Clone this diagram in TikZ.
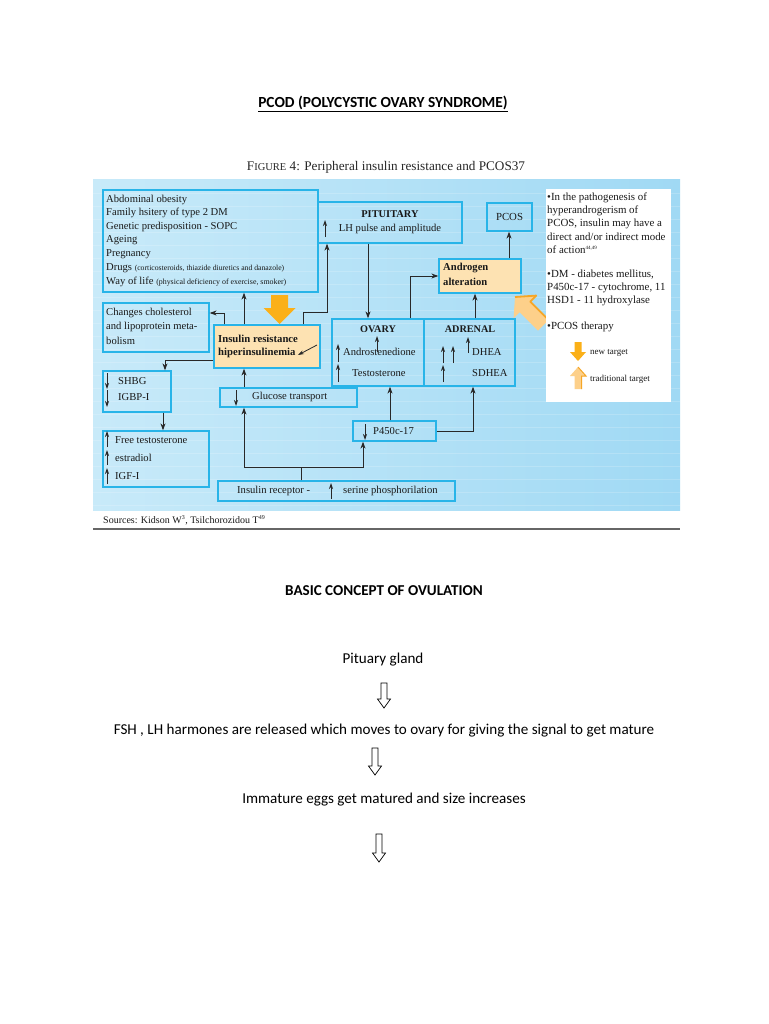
\documentclass[tikz,border=0pt]{standalone}
\usepackage{fontspec}
\setmainfont{Liberation Serif}
\newfontfamily\calib{Carlito}
\usetikzlibrary{arrows.meta}
\definecolor{bxc}{RGB}{40,180,232}
\definecolor{bgl}{RGB}{200,234,249}
\definecolor{bgr}{RGB}{160,217,244}
\definecolor{orfill}{RGB}{253,226,178}
\definecolor{ornew}{RGB}{251,176,24}
\definecolor{ortrad}{RGB}{253,208,138}
\definecolor{ortradd}{RGB}{246,166,38}
\definecolor{arrc}{RGB}{40,40,40}
\newcommand\hollowarrow[3]{\draw[line width=0.7pt] (#1-3,#2) -- (#1+3,#2) -- (#1+3,#3-9) -- (#1+6.5,#3-9) -- (#1,#3) -- (#1-6.5,#3-9) -- (#1-3,#3-9) -- cycle;}
\begin{document}
\begin{tikzpicture}[x=1pt,y=-1pt,
 bx/.style={draw=bxc, line width=1.3pt, inner sep=0pt},
 t/.style={inner sep=0pt, anchor=west, font=\fontsize{10.6}{12}\selectfont, text=black!90},
 tc/.style={t, anchor=center},
 tb/.style={t, font=\fontsize{10.6}{12}\selectfont\bfseries},
 nt/.style={t, font=\fontsize{10.9}{12}\selectfont},
 arr/.style={draw=arrc, line width=0.9pt, -{Stealth[length=7pt,width=5pt]}},
 ln/.style={draw=arrc, line width=0.9pt},
 mini/.style={draw=arrc, line width=0.8pt, -{Stealth[length=6pt,width=4pt]}},
 big/.style={inner sep=0pt, font=\calib\fontsize{15.1}{17}\selectfont}]
\useasboundingbox (0,0) rectangle (768,1024);
\fill[white] (0,0) rectangle (768,1024);

% headings
\node[big, font=\calib\bfseries\fontsize{15.4}{17}\selectfont] (title) at (383,104) {\underline{PCOD (POLYCYSTIC OVARY SYNDROME)}};
\node[inner sep=0pt, font=\fontsize{13.2}{15}\selectfont, text=black!85] (cap) at (386,167) {F{\fontsize{10.5}{12}\selectfont IGURE} 4: Peripheral insulin resistance and PCOS37};

% background
\shade[left color=bgl, right color=bgr] (93,180) rectangle (680,510);
\foreach \yy in {193,206,...,505} \draw[white, opacity=0.18, line width=0.6pt] (93,\yy) -- (680,\yy);

% boxes
\node[bx, minimum width=215, minimum height=102] (risk) at (210.5,241) {};
\node[bx, minimum width=144, minimum height=41] (pit) at (390,222.5) {};
\node[bx, minimum width=45, minimum height=28] (pcos) at (509.5,217) {};
\node[bx, fill=orfill, minimum width=82, minimum height=34] (andro) at (480,276) {};
\node[bx, minimum width=106, minimum height=49] (chol) at (156,327.5) {};
\node[bx, fill=orfill, minimum width=106, minimum height=43] (ins) at (267,346.5) {};
\node[bx, minimum width=92, minimum height=67] (ovary) at (378,352.5) {};
\node[bx, minimum width=91, minimum height=67] (adrenal) at (469.5,352.5) {};
\node[bx, minimum width=68, minimum height=41] (shbg) at (137,391.5) {};
\node[bx, minimum width=137, minimum height=19] (glu) at (288.5,397.5) {};
\node[bx, minimum width=83, minimum height=20] (p450) at (394.5,431) {};
\node[bx, minimum width=106, minimum height=56] (free) at (156,459) {};
\node[bx, minimum width=237, minimum height=20] (irec) at (336.5,491) {};

% big orange arrows
\fill[ornew] (271,295) -- (288,295) -- (288,308) -- (295.5,308) -- (279.5,324) -- (263.5,308) -- (271,308) -- cycle;
\begin{scope}[shift={(515,297)}, rotate=45]
\fill[ortrad] (0,0) -- (16,14) -- (7.5,14) -- (7.5,40) -- (-7.5,40) -- (-7.5,14) -- (-16,14) -- cycle;
\draw[ortradd, line width=1.8pt, line join=round] (0,0) -- (16,14) -- (7.5,14) -- (7.5,40);
\end{scope}

\node[fill=white, inner sep=0pt, minimum width=125, minimum height=213] (note) at (608.5,295.5) {};

% risk factor text
\node[t] (r1) at (106,200) {Abdominal obesity};
\node[t] (r2) at (106,213) {Family hsitery of type 2 DM};
\node[t] (r3) at (106,227) {Genetic predisposition - SOPC};
\node[t] (r4) at (106,240) {Ageing};
\node[t] (r5) at (106,254) {Pregnancy};
\node[t] (r6) at (106,268) {Drugs {\fontsize{7.7}{9}\selectfont(corticosteroids, thiazide diuretics and danazole)}};
\node[t] (r7) at (106,282) {Way of life {\fontsize{7.9}{9}\selectfont(physical deficiency of exercise, smoker)}};

% pituitary
\node[tc, font=\fontsize{10.4}{12}\selectfont\bfseries] (pit1) at (390,214) {PITUITARY};
\node[tc] (pit2) at (390,229) {LH pulse and amplitude};
\draw[mini] (325,237) -- (325,220);

\node[tc, font=\fontsize{10.8}{12}\selectfont] (pcost) at (509.5,217) {PCOS};
\node[tb] (an1) at (443,268) {Androgen};
\node[tb] (an2) at (443,282) {alteration};

\node[t] (ch1) at (106,313) {Changes cholesterol};
\node[t] (ch2) at (106,327) {and lipoprotein meta-};
\node[t] (ch3) at (106,341) {bolism};

\node[tb, font=\fontsize{10.7}{12}\selectfont\bfseries] (in1) at (218,339) {Insulin resistance};
\node[tb, font=\fontsize{10.7}{12}\selectfont\bfseries] (in2) at (218,353) {hiperinsulinemia};
\draw[mini] (317,345) -- (298,355);

% ovary / adrenal
\node[tc, font=\fontsize{10.2}{12}\selectfont\bfseries] (ov1) at (378,329) {OVARY};
\node[t] (ov2) at (343,352) {Androstenedione};
\node[t] (ov3) at (352,373) {Testosterone};
\draw[mini] (338,362) -- (338,344);
\draw[mini] (377,352) -- (377,336);
\draw[mini] (338,382) -- (338,364);
\node[tc, font=\fontsize{10.2}{12}\selectfont\bfseries] (ad1) at (470,329) {ADRENAL};
\node[t] (ad2) at (472,352) {DHEA};
\node[t] (ad3) at (472,373) {SDHEA};
\draw[mini] (443,363) -- (443,346);
\draw[mini] (453,363) -- (453,346);
\draw[mini] (468,353) -- (468,337);
\draw[mini] (443,382) -- (443,365);

% SHBG / free
\node[t] (sh1) at (118,381) {SHBG};
\node[t] (sh2) at (118,397) {IGBP-I};
\draw[mini] (107,373) -- (107,389);
\draw[mini] (107,390) -- (107,407);
\node[t] (fr1) at (115,440) {Free testosterone};
\node[t] (fr2) at (115,458) {estradiol};
\node[t] (fr3) at (115,476) {IGF-I};
\draw[mini] (107,447) -- (107,431);
\draw[mini] (107,465) -- (107,450);
\draw[mini] (107,484) -- (107,468);

% glucose, p450, receptor
\node[t] (gl) at (252,397) {Glucose transport};
\draw[mini] (236,390) -- (236,406);
\node[t] (pt) at (373,431) {P450c-17};
\draw[mini] (365,424) -- (365,440);
\node[t] (ir1) at (237,491) {Insulin receptor -};
\node[t] (ir2) at (343,491) {serine phosphorilation};
\draw[mini] (331,499) -- (331,483);

% note text
\node[nt] (n1) at (547,198) {•In the pathogenesis of};
\node[nt] (n2) at (547,211) {hyperandrogerism of};
\node[nt] (n3) at (547,223.5) {PCOS, insulin may have a};
\node[nt] (n4) at (547,237) {direct and/or indirect mode};
\node[nt] (n5) at (547,250) {of action\textsuperscript{\fontsize{5}{6}\selectfont 44,49}};
\node[nt] (n6) at (547,275) {•DM - diabetes mellitus,};
\node[nt] (n7) at (547,288) {P450c-17 - cytochrome, 11};
\node[nt] (n8) at (547,301) {HSD1 - 11 hydroxylase};
\node[nt] (n9) at (547,327) {•PCOS therapy};
\node[t, font=\fontsize{9}{10}\selectfont] (n10) at (590,353) {new target};
\node[t, font=\fontsize{9}{10}\selectfont] (n11) at (590,379) {traditional target};
\fill[ornew] (574.5,342) -- (581.5,342) -- (581.5,352) -- (586,352) -- (578,361) -- (570,352) -- (574.5,352) -- cycle;
\fill[ortrad] (578,367) -- (586,376) -- (581.5,376) -- (581.5,389) -- (574.5,389) -- (574.5,376) -- (570,376) -- cycle;
\draw[ortradd, line width=1pt] (578,367) -- (586,376) -- (581.5,376) -- (581.5,389);

% connectors
\draw[arr] (ins.north -| 244,0) -- (risk.south -| 244,0);
\draw[arr] (ins.north -| 224,0) |- (chol.east |- 0,313);
\draw[arr] (ins.north -| 303,0) -- (303,312) -| (pit.south -| 327,0);
\draw[arr] (ins.west |- 0,360) -| (shbg.north -| 165,0);
\draw[arr] (shbg.south -| 163,0) -- (free.north -| 163,0);
\draw[arr] (glu.north -| 244,0) -- (ins.south -| 244,0);
\coordinate (split) at (301,467);
\draw[ln] (irec.north -| 301,0) -- (split);
\draw[arr] (split) -| (glu.south -| 244,0);
\draw[arr] (split) -| (p450.south -| 363,0);
\draw[arr] (p450.north -| 390,0) -- (ovary.south -| 390,0);
\draw[arr] (p450.east) -| (adrenal.south -| 473,0);
\draw[arr] (pit.south -| 368,0) -- (ovary.north -| 368,0);
\draw[arr] (ovary.north -| 410,0) |- (andro.west);
\draw[arr] (adrenal.north -| 475,0) -- (andro.south -| 475,0);
\draw[arr] (andro.north -| 509,0) -- (pcos.south -| 509,0);

% sources
\node[t, font=\fontsize{10}{11}\selectfont] (src) at (103,520) {Sources: Kidson W\textsuperscript{\fontsize{6}{7}\selectfont 3}, Tsilchorozidou T\textsuperscript{\fontsize{6}{7}\selectfont 49}};
\draw[black!60, line width=2pt] (93,529) -- (680,529);

% ovulation section
\node[big, font=\calib\bfseries\fontsize{15.1}{17}\selectfont] (basic) at (384,591) {BASIC CONCEPT OF OVULATION};
\node[big] (s1) at (383,660) {Pituary gland};
\node[big] (s2) at (384,731) {FSH , LH harmones are released which moves to ovary for giving the signal to get mature};
\node[big] (s3) at (384,800) {Immature eggs get matured and size increases};
\hollowarrow{384}{683}{708}
\hollowarrow{375}{748}{775}
\hollowarrow{379}{834}{862}
\end{tikzpicture}
\end{document}
